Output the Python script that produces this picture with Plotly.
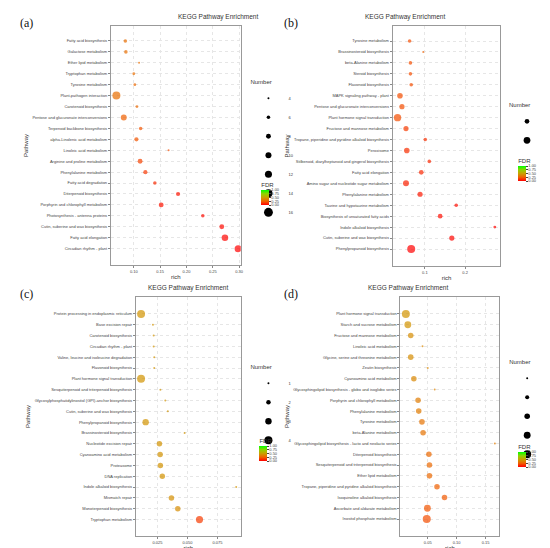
import numpy as np
import plotly.graph_objects as go

# ---- panel (a) ----
a_path = ["Fatty acid biosynthesis", "Galactose metabolism", "Ether lipid metabolism",
          "Tryptophan metabolism", "Tyrosine metabolism", "Plant-pathogen interaction",
          "Carotenoid biosynthesis", "Pentose and glucuronate interconversions",
          "Terpenoid backbone biosynthesis", "alpha-Linolenic acid metabolism",
          "Linoleic acid metabolism", "Arginine and proline metabolism",
          "Phenylalanine metabolism", "Fatty acid degradation", "Diterpenoid biosynthesis",
          "Porphyrin and chlorophyll metabolism", "Photosynthesis - antenna proteins",
          "Cutin, suberine and wax biosynthesis", "Fatty acid elongation",
          "Circadian rhythm - plant"]
a_rich = [0.084, 0.085, 0.110, 0.100, 0.102, 0.067, 0.106, 0.081, 0.113, 0.105,
          0.166, 0.112, 0.122, 0.140, 0.184, 0.152, 0.231, 0.267, 0.273, 0.298]
a_num = [6, 6, 4, 5, 5, 14, 5, 10, 6, 7, 4, 8, 7, 6, 7, 8, 6, 8, 11, 12]
a_fdr = [0.30, 0.30, 0.30, 0.30, 0.28, 0.30, 0.28, 0.25, 0.22, 0.22,
         0.20, 0.17, 0.14, 0.11, 0.05, 0.05, 0.03, 0.02, 0.01, 0.0]
a_leg = [4, 6, 8, 10, 12, 14, 16]
a_ticks = [0.10, 0.15, 0.20, 0.25, 0.30]

# ---- panel (b) ----
b_path = ["Tyrosine metabolism", "Brassinosteroid biosynthesis", "beta-Alanine metabolism",
          "Steroid biosynthesis", "Flavonoid biosynthesis", "MAPK signaling pathway - plant",
          "Pentose and glucuronate interconversions", "Plant hormone signal transduction",
          "Fructose and mannose metabolism",
          "Tropane, piperidine and pyridine alkaloid biosynthesis", "Peroxisome",
          "Stilbenoid, diarylheptanoid and gingerol biosynthesis", "Fatty acid elongation",
          "Amino sugar and nucleotide sugar metabolism", "Phenylalanine metabolism",
          "Taurine and hypotaurine metabolism", "Biosynthesis of unsaturated fatty acids",
          "Indole alkaloid biosynthesis", "Cutin, suberine and wax biosynthesis",
          "Phenylpropanoid biosynthesis"]
b_rich = [0.062, 0.096, 0.064, 0.064, 0.066, 0.038, 0.043, 0.032, 0.053, 0.101,
          0.055, 0.111, 0.091, 0.053, 0.088, 0.178, 0.138, 0.274, 0.167, 0.066]
b_num = [3, 1, 3, 3, 3, 7, 6, 12, 6, 3, 7, 3, 5, 8, 6, 3, 5, 2, 6, 14]
b_fdr = [0.20, 0.25, 0.20, 0.20, 0.20, 0.20, 0.20, 0.20, 0.15, 0.12,
         0.12, 0.10, 0.10, 0.08, 0.06, 0.03, 0.03, 0.01, 0.01, 0.0]
b_leg = [5, 10]
b_ticks = [0.1, 0.2]

# ---- panel (c) ----
c_path = ["Protein processing in endoplasmic reticulum", "Base excision repair",
          "Carotenoid biosynthesis", "Circadian rhythm - plant",
          "Valine, leucine and isoleucine degradation", "Flavonoid biosynthesis",
          "Plant hormone signal transduction", "Sesquiterpenoid and triterpenoid biosynthesis",
          "Glycosylphosphatidylinositol (GPI)-anchor biosynthesis",
          "Cutin, suberine and wax biosynthesis", "Phenylpropanoid biosynthesis",
          "Brassinosteroid biosynthesis", "Nucleotide excision repair",
          "Cyanoamino acid metabolism", "Proteasome", "DNA replication",
          "Indole alkaloid biosynthesis", "Mismatch repair", "Monoterpenoid biosynthesis",
          "Tryptophan metabolism"]
c_rich = [0.0113, 0.0212, 0.0218, 0.0218, 0.0223, 0.0223, 0.0113, 0.0274, 0.0315, 0.0336,
          0.0151, 0.0476, 0.0266, 0.0272, 0.0274, 0.0290, 0.0906, 0.0366, 0.0419, 0.0600]
c_num = [4, 1, 1, 1, 1, 1, 4, 1, 1, 1, 3, 1, 2.5, 2.5, 2.5, 2.5, 1, 2.5, 2.5, 3.5]
c_fdr = [0.45, 0.45, 0.45, 0.45, 0.45, 0.45, 0.45, 0.45, 0.45, 0.45,
         0.45, 0.45, 0.44, 0.44, 0.44, 0.44, 0.45, 0.43, 0.42, 0.15]
c_leg = [1, 2, 3, 4]
c_ticks = [0.025, 0.050, 0.075]

# ---- panel (d) ----
d_path = ["Plant hormone signal transduction", "Starch and sucrose metabolism",
          "Fructose and mannose metabolism", "Linoleic acid metabolism",
          "Glycine, serine and threonine metabolism", "Zeatin biosynthesis",
          "Cyanoamino acid metabolism",
          "Glycosphingolipid biosynthesis - globo and isoglobo series",
          "Porphyrin and chlorophyll metabolism", "Phenylalanine metabolism",
          "Tyrosine metabolism", "beta-Alanine metabolism",
          "Glycosphingolipid biosynthesis - lacto and neolacto series",
          "Diterpenoid biosynthesis", "Sesquiterpenoid and triterpenoid biosynthesis",
          "Ether lipid metabolism", "Tropane, piperidine and pyridine alkaloid biosynthesis",
          "Isoquinoline alkaloid biosynthesis", "Ascorbate and aldarate metabolism",
          "Inositol phosphate metabolism"]
d_rich = [0.0122, 0.0156, 0.0206, 0.041, 0.0206, 0.050, 0.026, 0.062, 0.0333, 0.0344,
          0.040, 0.042, 0.166, 0.052, 0.053, 0.053, 0.066, 0.079, 0.0494, 0.0483]
d_num = [5, 4, 3, 1, 3, 1, 3, 1, 3, 3, 3, 3, 1, 3, 3, 3, 3, 3, 4, 5]
d_fdr = [0.45, 0.45, 0.42, 0.40, 0.42, 0.40, 0.40, 0.38, 0.35, 0.35,
         0.32, 0.32, 0.35, 0.28, 0.28, 0.28, 0.25, 0.23, 0.22, 0.20]
d_leg = [1, 2, 3, 4, 5]
d_ticks = [0.05, 0.10, 0.15]

fdr_scale = [[0, "#ff0000"], [0.25, "#f06000"], [0.5, "#c9a000"],
             [0.75, "#8ed400"], [1, "#00ff00"]]

W, H = 550, 548
fig = go.Figure()


def size_of(n, num):
    # area-style scaling over the data range of the panel
    lo, hi = np.sqrt(min(num)), np.sqrt(max(num))
    return np.clip(2 + 6 * (np.sqrt(np.array(n, dtype=float)) - lo) / (hi - lo), 1.5, None)


# px boxes: left, right, top, bottom ; letter; legend pos; colorbar pos
panels = [
    (a_path, a_rich, a_num, a_fdr, a_leg, a_ticks, [0.0566, 0.303], "{:.2f}",
     (107, 242, 18, 257), "(a)", (250, 68), (253, 184)),
    (b_path, b_rich, b_num, b_fdr, b_leg, b_ticks, [0.020, 0.288], "{:.1f}",
     (400, 512, 18, 258), "(b)", (519, 91), (520, 160)),
    (c_path, c_rich, c_num, c_fdr, c_leg, c_ticks, [0.0070, 0.0944], "{:.3f}",
     (133, 242, 289, 528), "(c)", (250, 353), (251, 440)),
    (d_path, d_rich, d_num, d_fdr, d_leg, d_ticks, [0.0028, 0.174], "{:.2f}",
     (408, 511, 289, 528), "(d)", (519, 348), (520, 446)),
]

for i, (path, rich, num, fdr, leg, ticks, xr, fmt, box, letter, lpos, cpos) in enumerate(panels):
    k = "" if i == 0 else str(i + 1)
    l, r, t, b = box
    fig.add_trace(go.Scatter(
        x=rich, y=path, mode="markers", xaxis="x" + k, yaxis="y" + k,
        showlegend=False,
        marker=dict(size=size_of(num, num), color=fdr, cmin=0, cmax=1,
                    colorscale=fdr_scale, line=dict(width=0),
                    colorbar=dict(x=cpos[0] / W, y=1 - cpos[1] / H, xanchor="left",
                                  yanchor="middle", lenmode="pixels", len=46,
                                  thickness=8, outlinewidth=0,
                                  title=dict(text="FDR", side="top",
                                             font=dict(size=6, color="#333")),
                                  tickvals=[0, 0.25, 0.5, 0.75, 1],
                                  ticktext=["0.00", "0.25", "0.50", "0.75", "1.00"],
                                  tickfont=dict(size=4, color="#444"), ticklen=2))))
    lname = "legend" + k
    for n in leg:
        fig.add_trace(go.Scatter(
            x=[None], y=[None], mode="markers", name=str(n), legend=lname,
            xaxis="x" + k, yaxis="y" + k,
            marker=dict(size=size_of([n], num)[0], color="black")))
    fig.update_layout({
        "xaxis" + k: dict(domain=[l / W, r / W], anchor="y" + k, range=xr,
                          tickvals=ticks, ticktext=[fmt.format(v) for v in ticks],
                          tickfont=dict(size=4, color="#444"), ticks="outside", ticklen=2,
                          tickcolor="#888", showgrid=True, gridcolor="#e6e6e6",
                          griddash="dot", gridwidth=0.6, zeroline=False, mirror=True,
                          showline=True, linecolor="#999", linewidth=1,
                          title=dict(text="rich", font=dict(size=6, color="#333"),
                                     standoff=2)),
        "yaxis" + k: dict(domain=[1 - b / H, 1 - t / H], anchor="x" + k,
                          autorange="reversed", type="category",
                          tickfont=dict(size=4, color="#444"), ticks="outside", ticklen=2,
                          tickcolor="#888", showgrid=True, gridcolor="#e6e6e6",
                          griddash="dot", gridwidth=0.6, mirror=True, showline=True,
                          linecolor="#999", linewidth=1,
                          title=dict(text="Pathway", font=dict(size=6, color="#333"),
                                     standoff=3)),
        lname: dict(x=lpos[0] / W, y=1 - lpos[1] / H, xanchor="left", yanchor="top",
                    font=dict(size=4, color="#333"), bgcolor="rgba(0,0,0,0)",
                    title=dict(text="Number", font=dict(size=6, color="#333"),
                               side="top"),
                    itemsizing="trace", tracegroupgap=0),
    })
    fig.add_annotation(x=(l + r) / 2 / W, y=1 - (t - 3) / H, xref="paper", yref="paper",
                       text="KEGG Pathway Enrichment", showarrow=False, yanchor="bottom",
                       font=dict(size=6.5, color="#333"))
    lx = 10 if i % 2 == 0 else 285
    fig.add_annotation(x=lx / W, y=1 - (t - 12) / H, xref="paper", yref="paper",
                       text=letter, showarrow=False, xanchor="left", yanchor="top",
                       font=dict(size=12, family="Liberation Serif", color="#111"))

fig.update_layout(width=W, height=H, margin=dict(l=0, r=0, t=0, b=0),
                  plot_bgcolor="white", paper_bgcolor="white",
                  font=dict(family="Liberation Sans"))
fig.write_html("out.html")
